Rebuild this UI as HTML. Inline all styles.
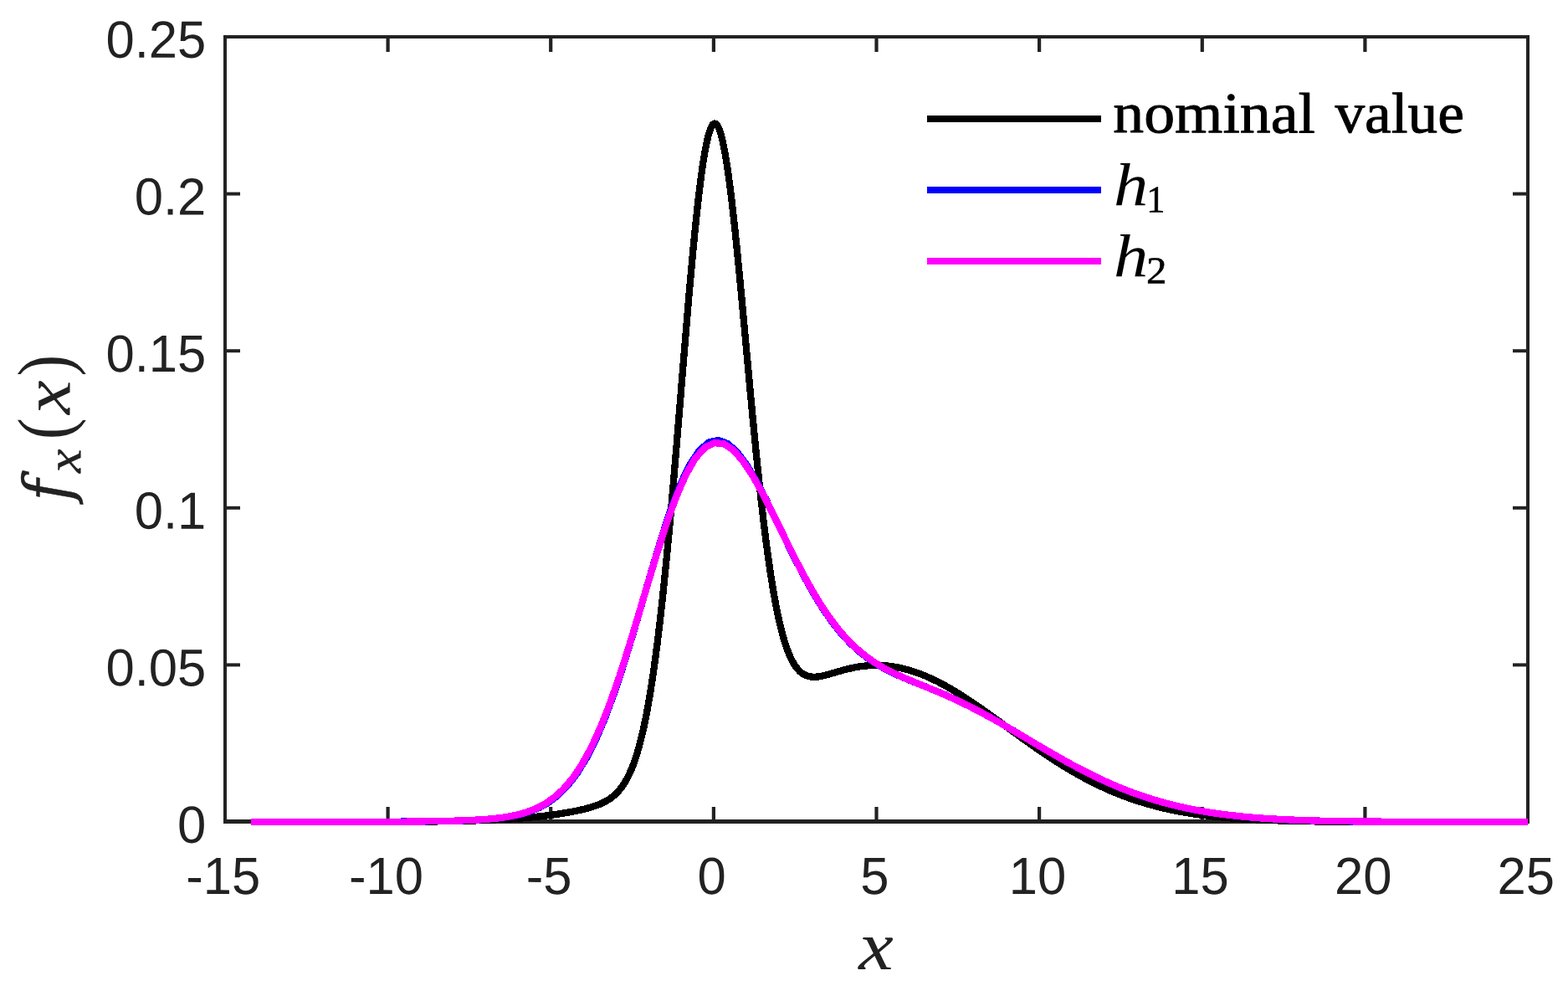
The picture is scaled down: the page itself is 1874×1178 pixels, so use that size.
<!DOCTYPE html>
<html lang="en"><head><meta charset="utf-8"><title>f_x(x)</title>
<style>
html,body{margin:0;padding:0;background:#fff;}
body{width:1874px;height:1178px;overflow:hidden;}
svg{display:block;}
.tk{font-family:"Liberation Sans",sans-serif;font-size:62.5px;fill:#222222;}
.rm{font-family:"Liberation Serif",serif;}
.dv{font-family:"DejaVu Serif","Liberation Serif",serif;}
.it{font-style:italic;}
</style></head><body>
<svg width="1874" height="1178" viewBox="0 0 1874 1178">
<rect width="1874" height="1178" fill="#fff"/>

<defs><clipPath id="c"><rect x="269.0" y="44.0" width="1557.0" height="944.0"/></clipPath></defs>
<g fill="#222222">
<rect x="267" y="42" width="4" height="942"/>
<rect x="1824" y="42" width="4" height="942"/>
<rect x="267" y="42" width="1561" height="4"/>
<rect x="267" y="979" width="1561" height="5"/>
<rect x="461.5" y="44" width="4.2" height="18"/>
<rect x="461.5" y="964" width="4.2" height="18"/>
<rect x="656.1" y="44" width="4.2" height="18"/>
<rect x="656.1" y="964" width="4.2" height="18"/>
<rect x="850.8" y="44" width="4.2" height="18"/>
<rect x="850.8" y="964" width="4.2" height="18"/>
<rect x="1045.4" y="44" width="4.2" height="18"/>
<rect x="1045.4" y="964" width="4.2" height="18"/>
<rect x="1240.0" y="44" width="4.2" height="18"/>
<rect x="1240.0" y="964" width="4.2" height="18"/>
<rect x="1434.7" y="44" width="4.2" height="18"/>
<rect x="1434.7" y="964" width="4.2" height="18"/>
<rect x="1629.3" y="44" width="4.2" height="18"/>
<rect x="1629.3" y="964" width="4.2" height="18"/>
<rect x="269" y="792.4" width="18" height="4"/>
<rect x="1808" y="792.4" width="18" height="4"/>
<rect x="269" y="604.8" width="18" height="4"/>
<rect x="1808" y="604.8" width="18" height="4"/>
<rect x="269" y="417.2" width="18" height="4"/>
<rect x="1808" y="417.2" width="18" height="4"/>
<rect x="269" y="229.6" width="18" height="4"/>
<rect x="1808" y="229.6" width="18" height="4"/>
</g>
<g fill="none" stroke-width="8.3" stroke-linejoin="round" stroke-linecap="butt" shape-rendering="crispEdges" clip-path="url(#c)">
<path d="M300.0,982.0 L302.0,982.0 L304.0,982.0 L306.0,982.0 L308.0,982.0 L310.0,982.0 L312.0,982.0 L314.0,982.0 L316.0,982.0 L318.0,982.0 L320.0,982.0 L322.0,982.0 L324.0,982.0 L326.0,982.0 L328.0,982.0 L330.0,982.0 L332.0,982.0 L334.0,982.0 L336.0,982.0 L338.0,982.0 L340.0,982.0 L342.0,982.0 L344.0,982.0 L346.0,982.0 L348.0,982.0 L350.0,982.0 L352.0,982.0 L354.0,982.0 L356.0,982.0 L358.0,982.0 L360.0,982.0 L362.0,982.0 L364.0,982.0 L366.0,982.0 L368.0,982.0 L370.0,982.0 L372.0,982.0 L374.0,982.0 L376.0,982.0 L378.0,982.0 L380.0,982.0 L382.0,982.0 L384.0,982.0 L386.0,982.0 L388.0,982.0 L390.0,982.0 L392.0,982.0 L394.0,982.0 L396.0,982.0 L398.0,982.0 L400.0,982.0 L402.0,982.0 L404.0,982.0 L406.0,982.0 L408.0,982.0 L410.0,982.0 L412.0,982.0 L414.0,982.0 L416.0,981.9 L418.0,981.9 L420.0,981.9 L422.0,981.9 L424.0,981.9 L426.0,981.9 L428.0,981.9 L430.0,981.9 L432.0,981.9 L434.0,981.9 L436.0,981.9 L438.0,981.9 L440.0,981.9 L442.0,981.9 L444.0,981.9 L446.0,981.9 L448.0,981.9 L450.0,981.9 L452.0,981.9 L454.0,981.9 L456.0,981.9 L458.0,981.9 L460.0,981.8 L462.0,981.8 L464.0,981.8 L466.0,981.8 L468.0,981.8 L470.0,981.8 L472.0,981.8 L474.0,981.8 L476.0,981.8 L478.0,981.8 L480.0,981.8 L482.0,981.7 L484.0,981.7 L486.0,981.7 L488.0,981.7 L490.0,981.7 L492.0,981.7 L494.0,981.7 L496.0,981.6 L498.0,981.6 L500.0,981.6 L502.0,981.6 L504.0,981.6 L506.0,981.6 L508.0,981.5 L510.0,981.5 L512.0,981.5 L514.0,981.5 L516.0,981.4 L518.0,981.4 L520.0,981.4 L522.0,981.4 L524.0,981.3 L526.0,981.3 L528.0,981.3 L530.0,981.3 L532.0,981.2 L534.0,981.2 L536.0,981.2 L538.0,981.1 L540.0,981.1 L542.0,981.0 L544.0,981.0 L546.0,981.0 L548.0,980.9 L550.0,980.9 L552.0,980.8 L554.0,980.8 L556.0,980.7 L558.0,980.7 L560.0,980.6 L562.0,980.6 L564.0,980.5 L566.0,980.4 L568.0,980.4 L570.0,980.3 L572.0,980.2 L574.0,980.2 L576.0,980.1 L578.0,980.0 L580.0,979.9 L582.0,979.9 L584.0,979.8 L586.0,979.7 L588.0,979.6 L590.0,979.5 L592.0,979.4 L594.0,979.3 L596.0,979.2 L598.0,979.1 L600.0,979.0 L602.0,978.9 L604.0,978.8 L606.0,978.6 L608.0,978.5 L610.0,978.4 L612.0,978.3 L614.0,978.1 L616.0,978.0 L618.0,977.8 L620.0,977.7 L622.0,977.5 L624.0,977.4 L626.0,977.2 L628.0,977.0 L630.0,976.9 L632.0,976.7 L634.0,976.5 L636.0,976.3 L638.0,976.1 L640.0,975.9 L642.0,975.7 L644.0,975.5 L646.0,975.3 L648.0,975.0 L650.0,974.8 L652.0,974.6 L654.0,974.3 L656.0,974.1 L658.0,973.8 L660.0,973.5 L662.0,973.3 L664.0,973.0 L666.0,972.7 L668.0,972.4 L670.0,972.1 L672.0,971.8 L674.0,971.4 L676.0,971.1 L678.0,970.8 L680.0,970.4 L682.0,970.1 L684.0,969.7 L686.0,969.3 L688.0,968.9 L690.0,968.5 L692.0,968.0 L694.0,967.6 L696.0,967.1 L698.0,966.7 L700.0,966.2 L702.0,965.6 L704.0,965.1 L706.0,964.5 L708.0,963.9 L710.0,963.3 L712.0,962.6 L714.0,961.8 L716.0,961.1 L718.0,960.2 L720.0,959.3 L722.0,958.3 L724.0,957.3 L726.0,956.1 L728.0,954.9 L730.0,953.5 L732.0,952.0 L734.0,950.3 L736.0,948.5 L738.0,946.4 L740.0,944.2 L742.0,941.8 L744.0,939.0 L746.0,936.0 L748.0,932.7 L750.0,929.1 L752.0,925.1 L754.0,920.6 L756.0,915.8 L758.0,910.4 L760.0,904.5 L762.0,898.1 L764.0,891.1 L766.0,883.5 L768.0,875.2 L770.0,866.2 L772.0,856.5 L774.0,845.9 L776.0,834.6 L778.0,822.5 L780.0,809.5 L782.0,795.6 L784.0,780.9 L786.0,765.3 L788.0,748.7 L790.0,731.3 L792.0,713.0 L794.0,693.9 L796.0,673.9 L798.0,653.1 L800.0,631.6 L802.0,609.5 L804.0,586.7 L806.0,563.4 L808.0,539.6 L810.0,515.5 L812.0,491.2 L814.0,466.7 L816.0,442.2 L818.0,417.9 L820.0,393.8 L822.0,370.0 L824.0,346.8 L826.0,324.3 L828.0,302.5 L830.0,281.8 L832.0,262.0 L834.0,243.5 L836.0,226.3 L838.0,210.6 L840.0,196.4 L842.0,183.9 L844.0,173.1 L846.0,164.2 L848.0,157.1 L850.0,151.9 L852.0,148.7 L854.0,147.5 L856.0,148.2 L858.0,150.8 L860.0,155.4 L862.0,161.9 L864.0,170.1 L866.0,180.1 L868.0,191.7 L870.0,204.9 L872.0,219.6 L874.0,235.5 L876.0,252.7 L878.0,270.9 L880.0,290.0 L882.0,310.0 L884.0,330.6 L886.0,351.7 L888.0,373.2 L890.0,394.9 L892.0,416.8 L894.0,438.6 L896.0,460.3 L898.0,481.8 L900.0,502.9 L902.0,523.6 L904.0,543.7 L906.0,563.3 L908.0,582.2 L910.0,600.4 L912.0,617.8 L914.0,634.3 L916.0,650.1 L918.0,665.0 L920.0,679.0 L922.0,692.1 L924.0,704.4 L926.0,715.8 L928.0,726.4 L930.0,736.1 L932.0,745.1 L934.0,753.3 L936.0,760.7 L938.0,767.4 L940.0,773.4 L942.0,778.9 L944.0,783.7 L946.0,787.9 L948.0,791.7 L950.0,794.9 L952.0,797.7 L954.0,800.1 L956.0,802.2 L958.0,803.9 L960.0,805.3 L962.0,806.4 L964.0,807.2 L966.0,807.9 L968.0,808.3 L970.0,808.6 L972.0,808.7 L974.0,808.7 L976.0,808.6 L978.0,808.4 L980.0,808.1 L982.0,807.7 L984.0,807.3 L986.0,806.8 L988.0,806.3 L990.0,805.7 L992.0,805.2 L994.0,804.6 L996.0,804.0 L998.0,803.4 L1000.0,802.8 L1002.0,802.2 L1004.0,801.7 L1006.0,801.1 L1008.0,800.6 L1010.0,800.0 L1012.0,799.5 L1014.0,799.0 L1016.0,798.6 L1018.0,798.1 L1020.0,797.7 L1022.0,797.3 L1024.0,797.0 L1026.0,796.6 L1028.0,796.3 L1030.0,796.1 L1032.0,795.8 L1034.0,795.6 L1036.0,795.4 L1038.0,795.2 L1040.0,795.1 L1042.0,795.0 L1044.0,794.9 L1046.0,794.9 L1048.0,794.9 L1050.0,794.9 L1052.0,795.0 L1054.0,795.1 L1056.0,795.2 L1058.0,795.3 L1060.0,795.5 L1062.0,795.7 L1064.0,795.9 L1066.0,796.2 L1068.0,796.5 L1070.0,796.8 L1072.0,797.2 L1074.0,797.6 L1076.0,798.0 L1078.0,798.5 L1080.0,798.9 L1082.0,799.4 L1084.0,800.0 L1086.0,800.5 L1088.0,801.1 L1090.0,801.7 L1092.0,802.4 L1094.0,803.1 L1096.0,803.8 L1098.0,804.5 L1100.0,805.2 L1102.0,806.0 L1104.0,806.8 L1106.0,807.6 L1108.0,808.5 L1110.0,809.4 L1112.0,810.3 L1114.0,811.2 L1116.0,812.2 L1118.0,813.1 L1120.0,814.1 L1122.0,815.1 L1124.0,816.2 L1126.0,817.2 L1128.0,818.3 L1130.0,819.4 L1132.0,820.5 L1134.0,821.7 L1136.0,822.8 L1138.0,824.0 L1140.0,825.2 L1142.0,826.4 L1144.0,827.6 L1146.0,828.8 L1148.0,830.1 L1150.0,831.3 L1152.0,832.6 L1154.0,833.9 L1156.0,835.2 L1158.0,836.6 L1160.0,837.9 L1162.0,839.2 L1164.0,840.6 L1166.0,841.9 L1168.0,843.3 L1170.0,844.7 L1172.0,846.1 L1174.0,847.5 L1176.0,848.9 L1178.0,850.3 L1180.0,851.7 L1182.0,853.2 L1184.0,854.6 L1186.0,856.0 L1188.0,857.5 L1190.0,858.9 L1192.0,860.4 L1194.0,861.8 L1196.0,863.3 L1198.0,864.7 L1200.0,866.2 L1202.0,867.6 L1204.0,869.1 L1206.0,870.6 L1208.0,872.0 L1210.0,873.5 L1212.0,874.9 L1214.0,876.4 L1216.0,877.8 L1218.0,879.3 L1220.0,880.7 L1222.0,882.2 L1224.0,883.6 L1226.0,885.0 L1228.0,886.4 L1230.0,887.9 L1232.0,889.3 L1234.0,890.7 L1236.0,892.1 L1238.0,893.5 L1240.0,894.9 L1242.0,896.3 L1244.0,897.6 L1246.0,899.0 L1248.0,900.3 L1250.0,901.7 L1252.0,903.0 L1254.0,904.4 L1256.0,905.7 L1258.0,907.0 L1260.0,908.3 L1262.0,909.6 L1264.0,910.8 L1266.0,912.1 L1268.0,913.4 L1270.0,914.6 L1272.0,915.8 L1274.0,917.1 L1276.0,918.3 L1278.0,919.5 L1280.0,920.6 L1282.0,921.8 L1284.0,923.0 L1286.0,924.1 L1288.0,925.2 L1290.0,926.4 L1292.0,927.5 L1294.0,928.6 L1296.0,929.6 L1298.0,930.7 L1300.0,931.8 L1302.0,932.8 L1304.0,933.8 L1306.0,934.8 L1308.0,935.8 L1310.0,936.8 L1312.0,937.8 L1314.0,938.8 L1316.0,939.7 L1318.0,940.6 L1320.0,941.5 L1322.0,942.4 L1324.0,943.3 L1326.0,944.2 L1328.0,945.1 L1330.0,945.9 L1332.0,946.8 L1334.0,947.6 L1336.0,948.4 L1338.0,949.2 L1340.0,950.0 L1342.0,950.7 L1344.0,951.5 L1346.0,952.2 L1348.0,952.9 L1350.0,953.7 L1352.0,954.4 L1354.0,955.0 L1356.0,955.7 L1358.0,956.4 L1360.0,957.0 L1362.0,957.7 L1364.0,958.3 L1366.0,958.9 L1368.0,959.5 L1370.0,960.1 L1372.0,960.7 L1374.0,961.2 L1376.0,961.8 L1378.0,962.3 L1380.0,962.9 L1382.0,963.4 L1384.0,963.9 L1386.0,964.4 L1388.0,964.9 L1390.0,965.4 L1392.0,965.8 L1394.0,966.3 L1396.0,966.7 L1398.0,967.2 L1400.0,967.6 L1402.0,968.0 L1404.0,968.4 L1406.0,968.8 L1408.0,969.2 L1410.0,969.6 L1412.0,969.9 L1414.0,970.3 L1416.0,970.6 L1418.0,971.0 L1420.0,971.3 L1422.0,971.6 L1424.0,971.9 L1426.0,972.3 L1428.0,972.6 L1430.0,972.8 L1432.0,973.1 L1434.0,973.4 L1436.0,973.7 L1438.0,973.9 L1440.0,974.2 L1442.0,974.4 L1444.0,974.7 L1446.0,974.9 L1448.0,975.2 L1450.0,975.4 L1452.0,975.6 L1454.0,975.8 L1456.0,976.0 L1458.0,976.2 L1460.0,976.4 L1462.0,976.6 L1464.0,976.8 L1466.0,977.0 L1468.0,977.1 L1470.0,977.3 L1472.0,977.5 L1474.0,977.6 L1476.0,977.8 L1478.0,977.9 L1480.0,978.1 L1482.0,978.2 L1484.0,978.3 L1486.0,978.5 L1488.0,978.6 L1490.0,978.7 L1492.0,978.8 L1494.0,978.9 L1496.0,979.0 L1498.0,979.2 L1500.0,979.3 L1502.0,979.4 L1504.0,979.5 L1506.0,979.6 L1508.0,979.6 L1510.0,979.7 L1512.0,979.8 L1514.0,979.9 L1516.0,980.0 L1518.0,980.1 L1520.0,980.1 L1522.0,980.2 L1524.0,980.3 L1526.0,980.3 L1528.0,980.4 L1530.0,980.5 L1532.0,980.5 L1534.0,980.6 L1536.0,980.6 L1538.0,980.7 L1540.0,980.7 L1542.0,980.8 L1544.0,980.8 L1546.0,980.9 L1548.0,980.9 L1550.0,981.0 L1552.0,981.0 L1554.0,981.1 L1556.0,981.1 L1558.0,981.1 L1560.0,981.2 L1562.0,981.2 L1564.0,981.2 L1566.0,981.3 L1568.0,981.3 L1570.0,981.3 L1572.0,981.4 L1574.0,981.4 L1576.0,981.4 L1578.0,981.4 L1580.0,981.5 L1582.0,981.5 L1584.0,981.5 L1586.0,981.5 L1588.0,981.5 L1590.0,981.6 L1592.0,981.6 L1594.0,981.6 L1596.0,981.6 L1598.0,981.6 L1600.0,981.7 L1602.0,981.7 L1604.0,981.7 L1606.0,981.7 L1608.0,981.7 L1610.0,981.7 L1612.0,981.7 L1614.0,981.8 L1616.0,981.8 L1618.0,981.8 L1620.0,981.8 L1622.0,981.8 L1624.0,981.8 L1626.0,981.8 L1628.0,981.8 L1630.0,981.8 L1632.0,981.8 L1634.0,981.8 L1636.0,981.9 L1638.0,981.9 L1640.0,981.9 L1642.0,981.9 L1644.0,981.9 L1646.0,981.9 L1648.0,981.9 L1650.0,981.9 L1652.0,981.9 L1654.0,981.9 L1656.0,981.9 L1658.0,981.9 L1660.0,981.9 L1662.0,981.9 L1664.0,981.9 L1666.0,981.9 L1668.0,981.9 L1670.0,981.9 L1672.0,981.9 L1674.0,981.9 L1676.0,981.9 L1678.0,981.9 L1680.0,982.0 L1682.0,982.0 L1684.0,982.0 L1686.0,982.0 L1688.0,982.0 L1690.0,982.0 L1692.0,982.0 L1694.0,982.0 L1696.0,982.0 L1698.0,982.0 L1700.0,982.0 L1702.0,982.0 L1704.0,982.0 L1706.0,982.0 L1708.0,982.0 L1710.0,982.0 L1712.0,982.0 L1714.0,982.0 L1716.0,982.0 L1718.0,982.0 L1720.0,982.0 L1722.0,982.0 L1724.0,982.0 L1726.0,982.0 L1728.0,982.0 L1730.0,982.0 L1732.0,982.0 L1734.0,982.0 L1736.0,982.0 L1738.0,982.0 L1740.0,982.0 L1742.0,982.0 L1744.0,982.0 L1746.0,982.0 L1748.0,982.0 L1750.0,982.0 L1752.0,982.0 L1754.0,982.0 L1756.0,982.0 L1758.0,982.0 L1760.0,982.0 L1762.0,982.0 L1764.0,982.0 L1766.0,982.0 L1768.0,982.0 L1770.0,982.0 L1772.0,982.0 L1774.0,982.0 L1776.0,982.0 L1778.0,982.0 L1780.0,982.0 L1782.0,982.0 L1784.0,982.0 L1786.0,982.0 L1788.0,982.0 L1790.0,982.0 L1792.0,982.0 L1794.0,982.0 L1796.0,982.0 L1798.0,982.0 L1800.0,982.0 L1802.0,982.0 L1804.0,982.0 L1806.0,982.0 L1808.0,982.0 L1810.0,982.0 L1812.0,982.0 L1814.0,982.0 L1816.0,982.0 L1818.0,982.0 L1820.0,982.0 L1822.0,982.0 L1824.0,982.0 L1826.0,982.0" stroke="#000"/>
<path d="M305.0,982.0 L316.3,982.0 L327.6,982.0 L338.9,982.0 L350.2,982.0 L361.5,982.0 L372.8,982.0 L384.1,982.0 L395.4,982.0 L406.7,981.9 L418.0,981.9 L429.3,981.9 L440.6,981.9 L451.9,981.8 L463.2,981.8 L474.5,981.7 L485.8,981.6 L497.1,981.5 L508.4,981.4 L519.7,981.2 L531.0,981.0 L542.3,980.7 L553.6,980.4 L564.9,979.9 L576.2,979.3 L587.5,978.4 L598.8,977.2 L610.1,975.5 L621.4,973.1 L632.7,969.8 L644.0,965.2 L655.3,958.9 L666.6,950.3 L677.9,939.1 L689.2,924.6 L700.5,906.4 L711.8,884.1 L723.1,857.6 L734.4,827.0 L745.7,792.8 L757.0,755.9 L768.3,717.4 L779.6,678.7 L790.9,641.5 L802.2,607.5 L813.5,578.1 L824.8,554.6 L836.1,537.9 L847.4,528.3 L858.7,525.9 L870.0,530.3 L881.3,540.5 L892.6,555.7 L903.9,574.6 L915.2,596.1 L926.5,619.1 L937.8,642.6 L949.1,665.7 L960.4,687.6 L971.7,708.0 L983.0,726.5 L994.3,742.9 L1005.6,757.1 L1016.9,769.2 L1028.2,779.5 L1039.5,788.1 L1050.8,795.3 L1062.1,801.5 L1073.4,806.9 L1084.7,811.7 L1096.0,816.3 L1107.3,820.9 L1118.6,825.5 L1129.9,830.3 L1141.2,835.3 L1152.5,840.7 L1163.8,846.4 L1175.1,852.4 L1186.4,858.6 L1197.7,865.0 L1209.0,871.6 L1220.3,878.3 L1231.6,885.0 L1242.9,891.8 L1254.2,898.4 L1265.5,904.9 L1276.8,911.2 L1288.1,917.3 L1299.4,923.2 L1310.7,928.8 L1322.0,934.0 L1333.3,939.0 L1344.6,943.6 L1355.9,947.9 L1367.2,951.8 L1378.5,955.4 L1389.8,958.7 L1401.1,961.7 L1412.4,964.4 L1423.7,966.8 L1435.0,968.9 L1446.3,970.8 L1457.6,972.4 L1468.9,973.9 L1480.2,975.2 L1491.5,976.3 L1502.8,977.2 L1514.1,978.0 L1525.4,978.7 L1536.7,979.3 L1548.0,979.8 L1559.3,980.2 L1570.6,980.5 L1581.9,980.8 L1593.2,981.0 L1604.5,981.2 L1615.8,981.4 L1627.1,981.5 L1638.4,981.6 L1649.7,981.7 L1661.0,981.8 L1672.3,981.8 L1683.6,981.9 L1694.9,981.9 L1706.2,981.9 L1717.5,981.9 L1728.8,981.9 L1740.1,982.0 L1751.4,982.0 L1762.7,982.0 L1774.0,982.0 L1785.3,982.0 L1796.6,982.0 L1807.9,982.0 L1819.2,982.0 L1830.5,982.0 L1841.8,982.0" stroke="#0000ff"/>
<path d="M300.0,982.0 L311.3,982.0 L322.6,982.0 L333.9,982.0 L345.2,982.0 L356.5,982.0 L367.8,982.0 L379.1,982.0 L390.4,982.0 L401.7,981.9 L413.0,981.9 L424.3,981.9 L435.6,981.9 L446.9,981.8 L458.2,981.8 L469.5,981.7 L480.8,981.7 L492.1,981.6 L503.4,981.4 L514.7,981.3 L526.0,981.1 L537.3,980.8 L548.6,980.5 L559.9,980.1 L571.2,979.5 L582.5,978.7 L593.8,977.6 L605.1,976.1 L616.4,973.9 L627.7,970.9 L639.0,966.8 L650.3,961.1 L661.6,953.3 L672.9,943.2 L684.2,930.0 L695.5,913.3 L706.8,892.7 L718.1,868.1 L729.4,839.4 L740.7,807.1 L752.0,771.6 L763.3,734.2 L774.6,696.0 L785.9,658.7 L797.2,623.7 L808.5,592.7 L819.8,566.9 L831.1,547.4 L842.4,534.7 L853.7,529.1 L865.0,530.2 L876.3,537.6 L887.6,550.3 L898.9,567.2 L910.2,587.2 L921.5,609.2 L932.8,632.2 L944.1,655.2 L955.4,677.5 L966.7,698.5 L978.0,717.7 L989.3,735.0 L1000.6,750.2 L1011.9,763.3 L1023.2,774.4 L1034.5,783.8 L1045.8,791.8 L1057.1,798.5 L1068.4,804.3 L1079.7,809.5 L1091.0,814.2 L1102.3,818.9 L1113.6,823.5 L1124.9,828.2 L1136.2,833.2 L1147.5,838.4 L1158.8,844.0 L1170.1,849.8 L1181.4,855.9 L1192.7,862.2 L1204.0,868.7 L1215.3,875.4 L1226.6,882.1 L1237.9,888.8 L1249.2,895.4 L1260.5,902.0 L1271.8,908.4 L1283.1,914.6 L1294.4,920.5 L1305.7,926.2 L1317.0,931.6 L1328.3,936.7 L1339.6,941.5 L1350.9,945.9 L1362.2,950.0 L1373.5,953.7 L1384.8,957.2 L1396.1,960.3 L1407.4,963.1 L1418.7,965.6 L1430.0,967.9 L1441.3,969.9 L1452.6,971.7 L1463.9,973.2 L1475.2,974.5 L1486.5,975.7 L1497.8,976.7 L1509.1,977.6 L1520.4,978.3 L1531.7,979.0 L1543.0,979.5 L1554.3,980.0 L1565.6,980.3 L1576.9,980.7 L1588.2,980.9 L1599.5,981.1 L1610.8,981.3 L1622.1,981.4 L1633.4,981.6 L1644.7,981.6 L1656.0,981.7 L1667.3,981.8 L1678.6,981.8 L1689.9,981.9 L1701.2,981.9 L1712.5,981.9 L1723.8,981.9 L1735.1,982.0 L1746.4,982.0 L1757.7,982.0 L1769.0,982.0 L1780.3,982.0 L1791.6,982.0 L1802.9,982.0 L1814.2,982.0 L1825.5,982.0 L1836.8,982.0" stroke="#ff00ff"/>
</g>
<g class="tk">
<text transform="translate(266.8,1068.0) rotate(0.1) scale(0.984,1)" text-anchor="middle">-15</text>
<text transform="translate(461.4,1068.0) rotate(0.1) scale(0.984,1)" text-anchor="middle">-10</text>
<text transform="translate(656.0,1068.0) rotate(0.1) scale(0.984,1)" text-anchor="middle">-5</text>
<text transform="translate(850.7,1068.0) rotate(0.1) scale(0.984,1)" text-anchor="middle">0</text>
<text transform="translate(1045.3,1068.0) rotate(0.1) scale(0.984,1)" text-anchor="middle">5</text>
<text transform="translate(1239.9,1068.0) rotate(0.1) scale(0.984,1)" text-anchor="middle">10</text>
<text transform="translate(1434.5,1068.0) rotate(0.1) scale(0.984,1)" text-anchor="middle">15</text>
<text transform="translate(1629.2,1068.0) rotate(0.1) scale(0.984,1)" text-anchor="middle">20</text>
<text transform="translate(1823.8,1068.0) rotate(0.1) scale(0.984,1)" text-anchor="middle">25</text>
<text transform="translate(246.2,1006.9) rotate(0.1) scale(0.984,1)" text-anchor="end">0</text>
<text transform="translate(246.2,819.3) rotate(0.1) scale(0.984,1)" text-anchor="end">0.05</text>
<text transform="translate(246.2,631.7) rotate(0.1) scale(0.984,1)" text-anchor="end">0.1</text>
<text transform="translate(246.2,444.1) rotate(0.1) scale(0.984,1)" text-anchor="end">0.15</text>
<text transform="translate(246.2,256.5) rotate(0.1) scale(0.984,1)" text-anchor="end">0.2</text>
<text transform="translate(246.2,68.9) rotate(0.1) scale(0.984,1)" text-anchor="end">0.25</text>
</g>
<g shape-rendering="crispEdges">
<rect x="1108" y="138" width="208" height="8" fill="#000"/>
<rect x="1108" y="223" width="208" height="8" fill="#0000ff"/>
<rect x="1108" y="308" width="208" height="8" fill="#ff00ff"/>
</g>
<g fill="#000">
<text class="rm" transform="translate(1330.32,158.07) rotate(0.1) scale(1.0686,0.9951)" font-size="69" stroke="#000" stroke-width="0.9" stroke-linejoin="round">nominal</text>
<text class="rm" transform="translate(1595.47,158.07) rotate(0.1) scale(1.0335,0.9951)" font-size="69" stroke="#000" stroke-width="0.9" stroke-linejoin="round">value</text>
<text class="rm it" transform="translate(1331.01,245.30) rotate(0.1) scale(1.1471,1.0072)" font-size="72">h</text>
<text class="rm" transform="translate(1370.32,253.40) rotate(0.1) scale(0.9841,1.0132)" font-size="45" stroke="#000" stroke-width="0.6" stroke-linejoin="round">1</text>
<text class="rm it" transform="translate(1331.01,330.20) rotate(0.1) scale(1.1471,1.0072)" font-size="72">h</text>
<text class="rm" transform="translate(1370.05,338.50) rotate(0.1) scale(1.0848,1.0160)" font-size="45" stroke="#000" stroke-width="0.6" stroke-linejoin="round">2</text>
</g>
<g fill="#222222">
<text class="rm it" transform="translate(1026.17,1158.00) rotate(0.1) scale(1.1111,0.9834)" font-size="84" fill="#222222">x</text>
<text class="dv it" transform="rotate(-90) translate(-598.43,83.28) rotate(0.1) scale(0.8310,0.9124)" font-size="84" fill="#222222" stroke="#222222" stroke-width="0.5" stroke-linejoin="round">f</text>
<text class="rm it" transform="rotate(-90) translate(-564.89,96.21) rotate(0.1) scale(1.0657,0.9750)" font-size="60" fill="#222222" stroke="#222222" stroke-width="0.4" stroke-linejoin="round">x</text>
<text class="rm" transform="rotate(-90) translate(-525.30,83.55) rotate(0.1) scale(0.9249,1.0731)" font-size="84" fill="#222222">(</text>
<text class="rm it" transform="rotate(-90) translate(-495.06,83.50) rotate(0.1) scale(1.0873,0.9679)" font-size="84" fill="#222222">x</text>
<text class="rm" transform="rotate(-90) translate(-449.41,83.55) rotate(0.1) scale(0.9158,1.0731)" font-size="84" fill="#222222">)</text>
</g>
</svg></body></html>
